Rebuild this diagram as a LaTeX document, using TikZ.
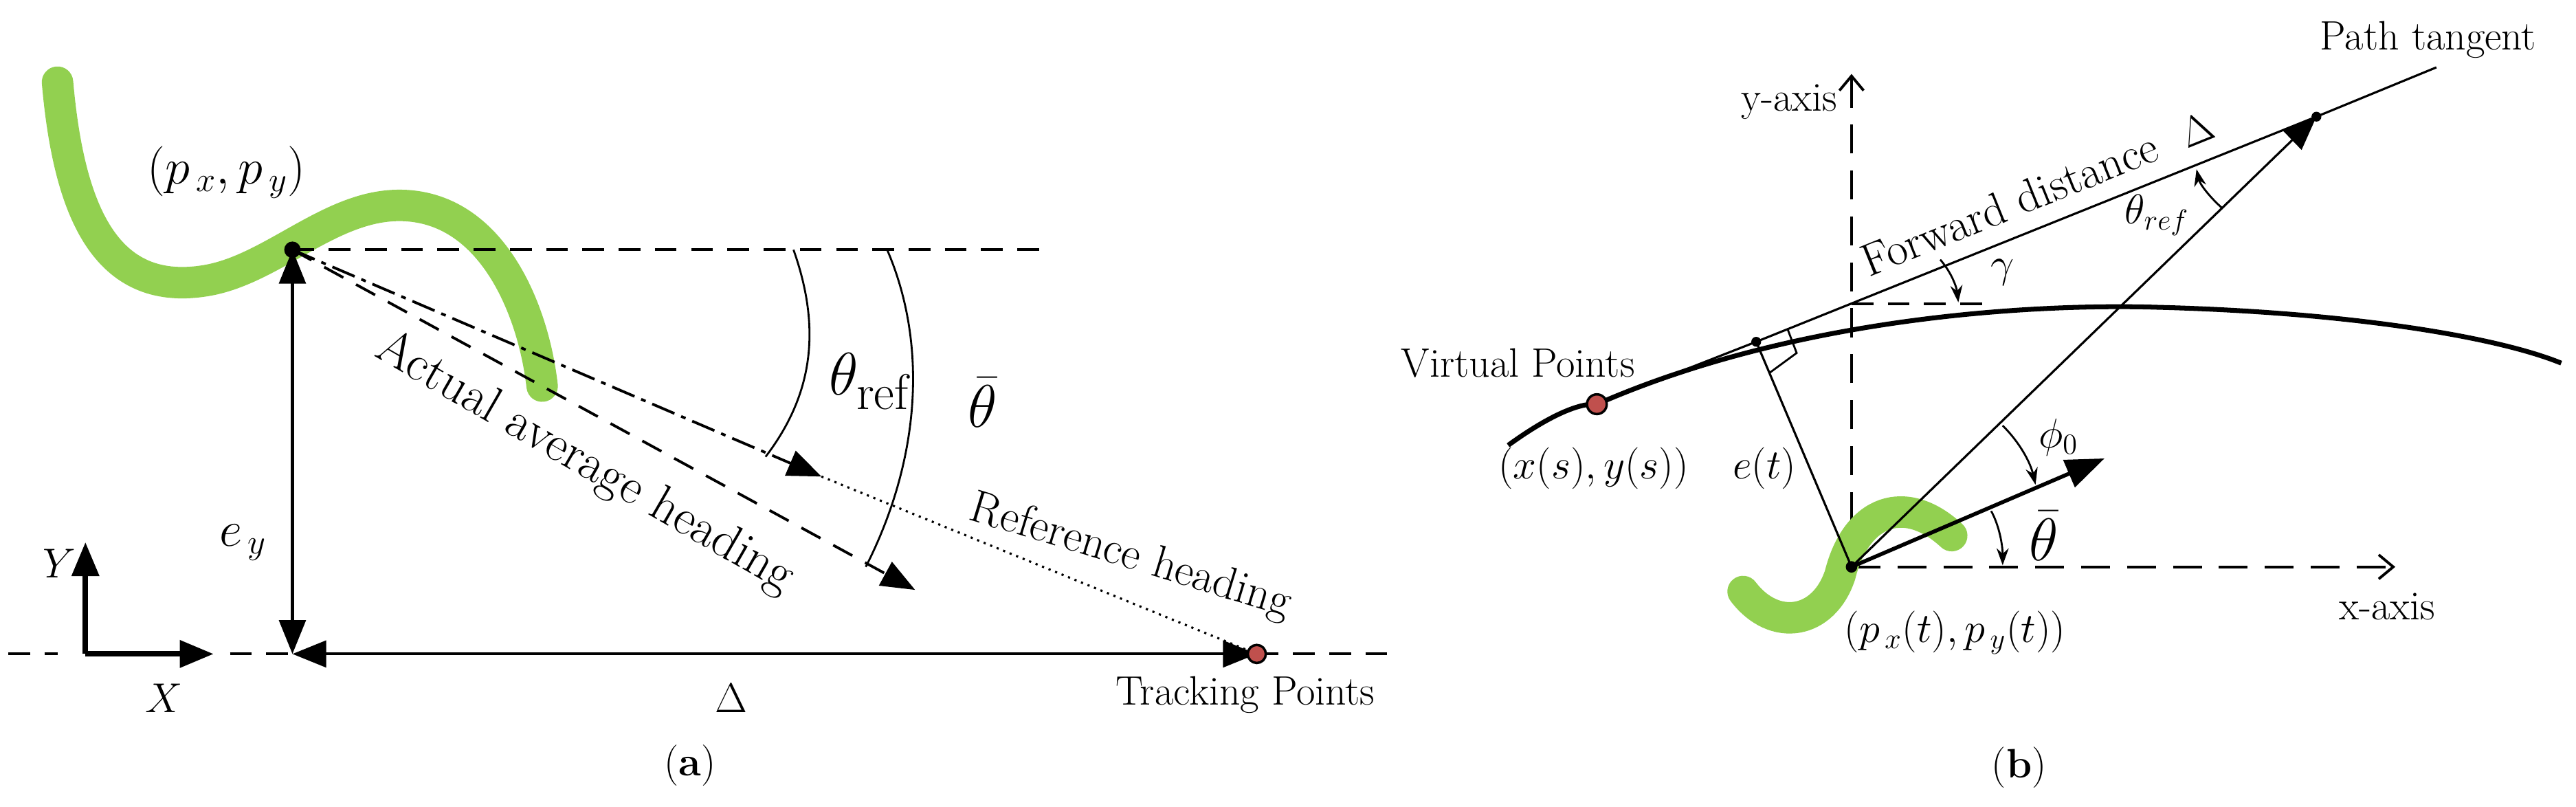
\documentclass[tikz,border=0pt]{standalone}
\usetikzlibrary{arrows.meta,calc}
\begin{document}
\begin{tikzpicture}[x=0.0239cm,y=-0.0239cm,
  lbl/.style={font=\fontsize{17}{20}\selectfont,inner sep=1pt},
  mid/.style={font=\fontsize{20}{24}\selectfont,inner sep=1pt},
  big/.style={font=\fontsize{28}{32}\selectfont,inner sep=1pt},
  dsh/.style={dash pattern=on 9pt off 6pt,line width=1.1pt},
  tri/.style={-{Triangle[length=14pt,width=11pt]}},
  green/.style={line width=13pt,color=gcol,line cap=round},
  ]
\definecolor{gcol}{RGB}{146,208,80}
\definecolor{rcol}{RGB}{192,80,77}
\useasboundingbox (0,0) rectangle (1568,491);
% ---------- panel (a)
\draw[green] (35,50) .. controls (42,130) and (65,180) .. (124,171) .. controls (165,165) and (200,125) .. (243,125) .. controls (300,125) and (325,190) .. (330,235);
\coordinate (P) at (178,152);
\coordinate (Bp) at (178,398);
\coordinate (T) at (765,398);
\coordinate (Hr) at (640,152);
\draw[dsh] (P) -- (Hr);
\draw[dsh] (5,398) -- (35,398);
\draw[dsh] (140,398) -- (Bp);
\draw[dsh] (T) -- (850,398);
\draw[line width=1.2pt,{Triangle[length=14pt,width=11pt]}-{Triangle[length=14pt,width=11pt]}] (P) -- (Bp);
\draw[line width=1.2pt,{Triangle[length=14pt,width=11pt]}-{Triangle[length=14pt,width=11pt]}] (Bp) -- (T);
\coordinate (O1) at (52,398);
\draw[line width=2.2pt,tri] (O1) -- (52,330);
\draw[line width=2.2pt,tri] (O1) -- (130,398);
\node[lbl] (Y) at (36,343) {$Y$};
\node[lbl] (X) at (100,425) {$X$};
\node[lbl] (D) at (445,425) {$\Delta$};
\node[mid] (ey) at (148,330) {$e_{\,y}$};
\node[mid] (pxy) at (138,105) {$(p_{\,x}, p_{\,y})$};
\coordinate (Rh) at (500,290);
\draw[line width=1.1pt,dash pattern=on 10pt off 3pt on 2pt off 3pt,tri] (P) -- (Rh);
\draw[line width=0.9pt,dotted] (Rh) -- (T);
\coordinate (Ah) at (557,359);
\draw[dsh,tri] (P) -- (Ah);
\fill (P) circle (5);
\draw[fill=rcol,line width=1pt] (T) circle (5.5);
\draw[line width=0.8pt] (483,152) .. controls (500,200) and (495,240) .. (466,278);
\draw[line width=0.8pt] (540,152) .. controls (565,210) and (560,280) .. (527,345);
\node[big] (tr) at (530,232) {$\theta_{\mathrm{ref}}$};
\node[big] (tb) at (598,245) {$\bar{\theta}$};
\node[mid,font=\fontsize{21}{24}\selectfont,rotate=-30] (aah) at (356,282) {Actual average heading};
\node[mid,font=\fontsize{19}{22}\selectfont,rotate=-17] (rh) at (688,339) {Reference heading};
\node[lbl] (tp) at (758,423) {Tracking Points};
\node[lbl] (la) at (420,466) {(\textbf{a})};
% ---------- panel (b)
\coordinate (O) at (1127,345);
\draw[line width=1.1pt,dash pattern=on 12pt off 7pt,-{Straight Barb[length=6pt,width=10pt]}] (O) -- (1127,45);
\draw[line width=1.1pt,dash pattern=on 12pt off 7pt,-{Straight Barb[length=6pt,width=10pt]}] (O) -- (1458,345);
\draw[green] (1061,360) .. controls (1080,385) and (1110,380) .. (1120,350) .. controls (1130,310) and (1160,300) .. (1188,326);
\coordinate (VP) at (972,246);
\coordinate (TP) at (1069,208);
\coordinate (FP) at (1410,71);
\coordinate (Yg) at (1127,185);
\draw[line width=2pt] (918,271) .. controls (940,255) and (960,245) .. (VP) .. controls (1100,190) and (1250,185) .. (1313,187) .. controls (1430,190) and (1520,205) .. (1559,221);
\draw[line width=0.9pt] (VP) -- (TP) -- (FP) -- (1483,41);
\draw[line width=0.9pt] (TP) -- (O);
\draw[line width=0.8pt] ($(TP)!14pt!(FP)$) -- ++(5.5,14.5) -- ($(TP)!14pt!(O)$);
\draw[dsh] (Yg) -- (1209,185);
\draw[line width=0.9pt,tri] (O) -- (FP);
\draw[line width=1.6pt,-{Triangle[length=16pt,width=12pt]}] (O) -- (1281,279);
\draw[line width=0.8pt,-{Stealth[length=7pt,width=5pt]}] (1181,158) .. controls (1188,166) and (1191,175) .. (1192,184);
\draw[line width=0.8pt,-{Stealth[length=7pt,width=5pt]}] (1353,127) .. controls (1345,120) and (1339,112) .. (1337,103);
\draw[line width=0.8pt,-{Stealth[length=7pt,width=5pt]}] (1219,259) .. controls (1230,270) and (1236,282) .. (1239,295);
\draw[line width=0.8pt,-{Stealth[length=7pt,width=5pt]}] (1212,311) .. controls (1217,320) and (1219,332) .. (1219,344);
\fill (TP) circle (3);
\fill (FP) circle (3);
\fill (O) circle (3.5);
\draw[fill=rcol,line width=1pt] (VP) circle (6);
\node[lbl] (pt) at (1478,24) {Path tangent};
\node[lbl] (ya) at (1089,62) {y-axis};
\node[lbl] (xa) at (1453,369) {x-axis};
\node[lbl] (vp) at (924,221) {Virtual Points};
\node[lbl] (xs) at (970,285) {$(x(s),y(s))$};
\node[lbl] (et) at (1074,285) {$e(t)$};
\node[lbl] (pt2) at (1190,385) {$(p_{\,x}(t),p_{\,y}(t))$};
\node[lbl,font=\fontsize{19}{22}\selectfont,rotate=22] (fd) at (1240,117) {Forward distance\ \ $\Delta$};
\node[lbl] (g) at (1219,166) {$\gamma$};
\node[lbl] (thr) at (1313,131) {$\theta_{ref}$};
\node[lbl] (ph) at (1253,266) {$\phi_0$};
\node[big,font=\fontsize{24}{28}\selectfont] (thb) at (1244,326) {$\bar{\theta}$};
\node[lbl] (lb) at (1229,467) {(\textbf{b})};
\end{tikzpicture}
\end{document}
